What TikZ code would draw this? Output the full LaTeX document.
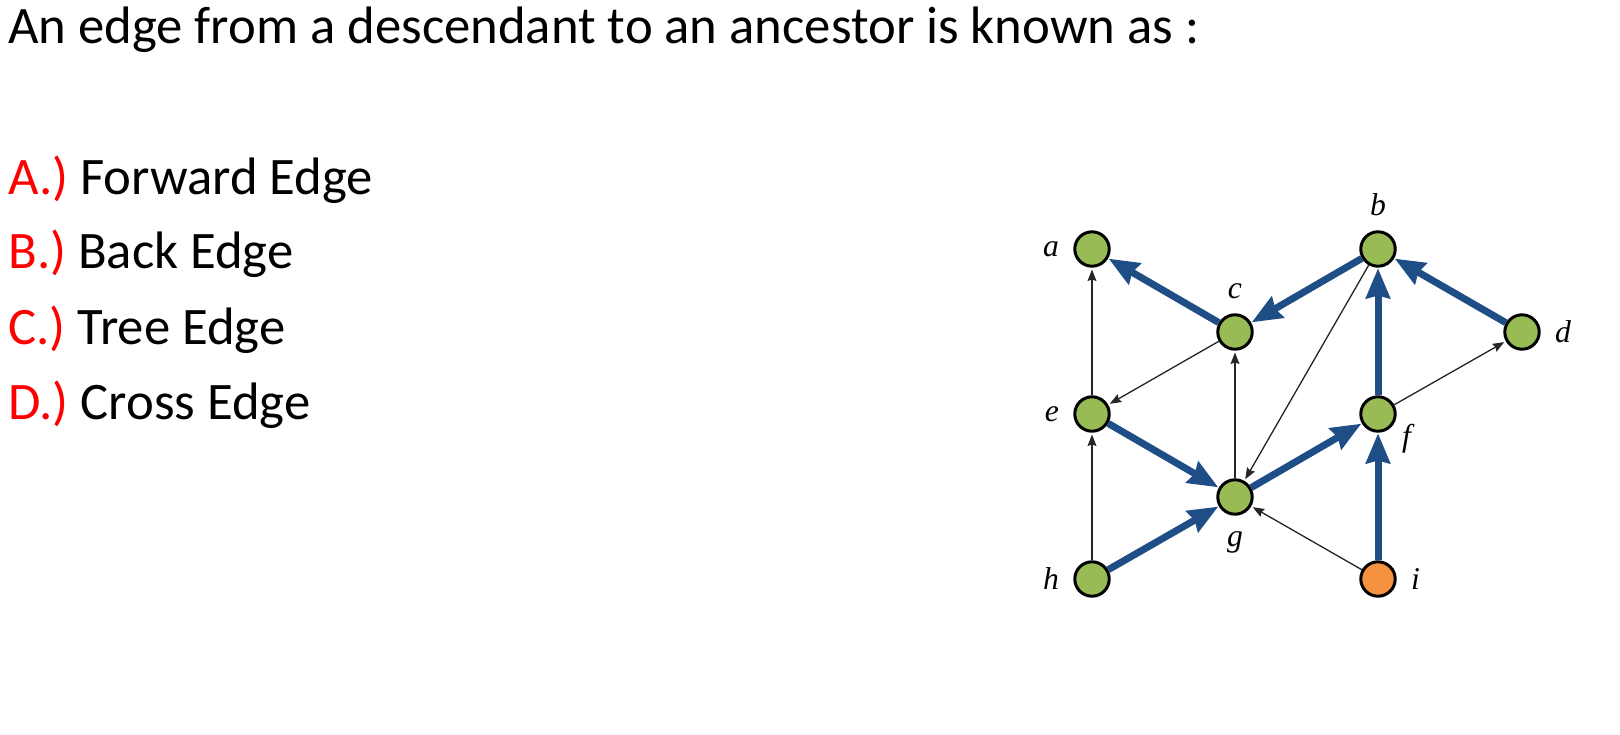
\documentclass[tikz,border=0pt]{standalone}
\usepackage{fontspec}
\setmainfont{Carlito}
\newfontfamily\vlabelfont{Liberation Serif}
\usepackage{tikz}
\usetikzlibrary{arrows.meta}

\definecolor{treeblue}{RGB}{31,77,133}
\definecolor{vgreen}{RGB}{153,187,85}
\definecolor{vorange}{RGB}{246,145,63}

\tikzset{
  vertex/.style={shape=circle,draw=black,line width=1.7pt,fill=vgreen,minimum size=19.6pt,inner sep=0pt},
  treeedge/.style={draw=treeblue,line width=4pt,-{Stealth[length=17pt,width=13.5pt,inset=1.5pt]},shorten >=0.3pt},
  otheredge/.style={draw=black!85,line width=0.75pt,-{Stealth[length=6.5pt,width=5pt,inset=0.8pt]},shorten >=1pt},
  every label/.style={font=\vlabelfont\itshape\fontsize{18}{21}\selectfont,inner sep=0pt},
  answer/.style={anchor=base west,inner sep=0pt,font=\fontsize{30}{36}\selectfont}
}

\begin{document}
\begin{tikzpicture}[x=0.02cm,y=-0.02cm]
        \useasboundingbox (0,0) rectangle (1620,734);

        \node[answer] (question) at (8,43) {An edge from a descendant to an ancestor is known as :};
        \node[answer] (optA) at (8,194) {\textcolor{red}{A.)} Forward Edge};
        \node[answer] (optB) at (8,268) {\textcolor{red}{B.)} Back Edge};
        \node[answer] (optC) at (8,344) {\textcolor{red}{C.)} Tree Edge};
        \node[answer] (optD) at (8,419) {\textcolor{red}{D.)} Cross Edge};

        \node[vertex,label={[label distance=8pt]left:a}] (a) at (1092,249) {};
        \node[vertex,label={[label distance=8pt]above:b}] (b) at (1378,249) {};
        \node[vertex,label={[label distance=8pt]above:c}] (c) at (1235,332) {};
        \node[vertex,label={[label distance=8pt]right:d}] (d) at (1522,332) {};
        \node[vertex,label={[label distance=8pt]left:e}] (e) at (1092,414) {};
        \node[vertex,label={[label distance=4pt]-22:f}] (f) at (1378,414) {};
        \node[vertex,label={[label distance=9pt]below:g}] (g) at (1235,497) {};
        \node[vertex,label={[label distance=8pt]left:h}] (h) at (1092,579) {};
        \node[vertex,fill=vorange,label={[label distance=8pt]right:i}] (i) at (1378,579) {};

        \path (e) edge[otheredge] (a);
        \path (c) edge[otheredge] (e);
        \path (g) edge[otheredge] (c);
        \path (b) edge[otheredge] (g);
        \path (f) edge[otheredge] (d);
        \path (h) edge[otheredge] (e);
        \path (i) edge[otheredge] (g);

        \path (c) edge[treeedge] (a);
        \path (b) edge[treeedge] (c);
        \path (d) edge[treeedge] (b);
        \path (f) edge[treeedge] (b);
        \path (e) edge[treeedge] (g);
        \path (h) edge[treeedge] (g);
        \path (g) edge[treeedge] (f);
        \path (i) edge[treeedge] (f);
    \end{tikzpicture}
\end{document}
